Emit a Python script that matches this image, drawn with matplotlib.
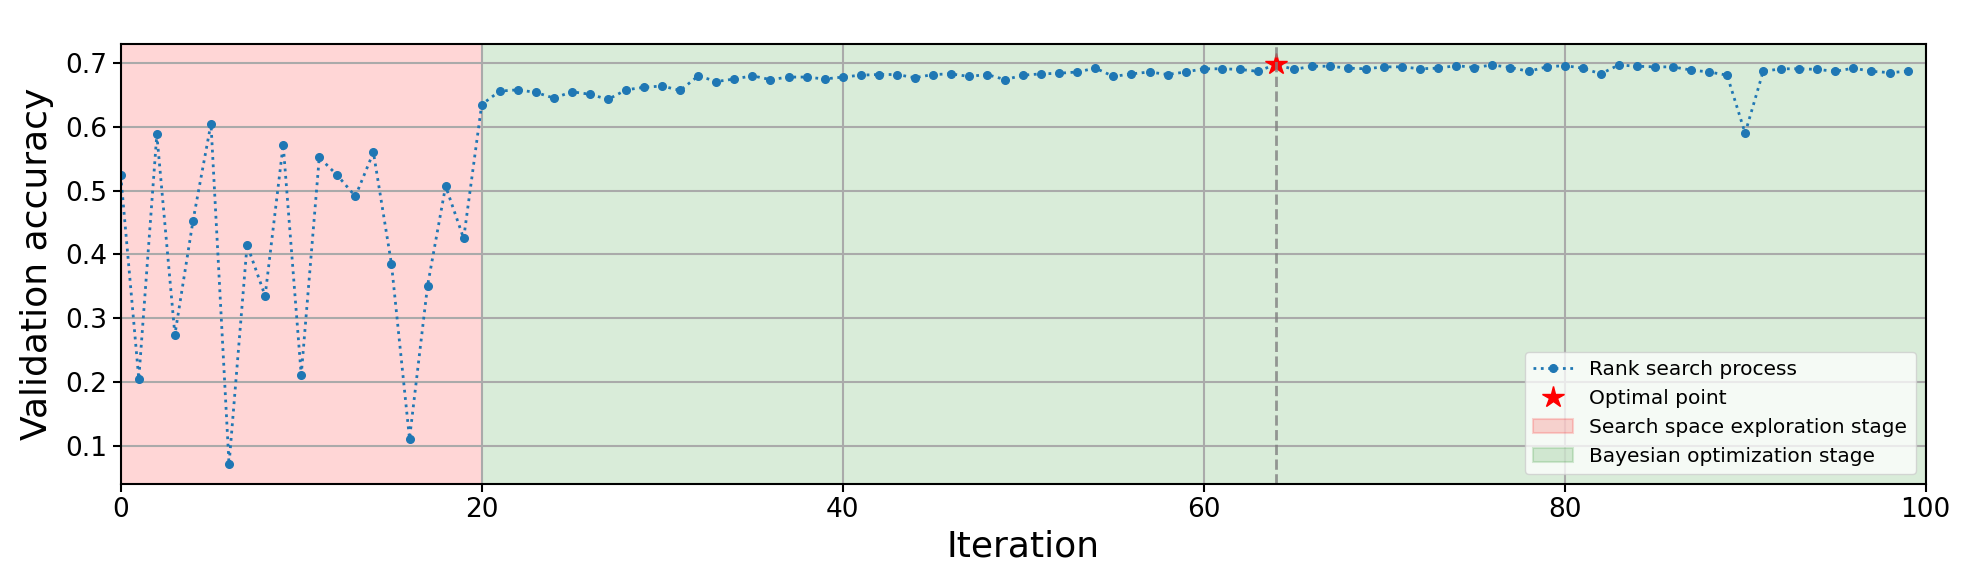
import numpy as np
import matplotlib
matplotlib.use('Agg')
import matplotlib.pyplot as plt

acc_explore = [0.524, 0.205, 0.588, 0.274, 0.452, 0.605, 0.071, 0.415, 0.335, 0.572,
               0.211, 0.552, 0.524, 0.491, 0.560, 0.385, 0.111, 0.351, 0.507, 0.425]
acc_bayes = [0.635, 0.656, 0.658, 0.654, 0.645, 0.655, 0.651, 0.643, 0.658, 0.662,
             0.664, 0.657, 0.680, 0.671, 0.675, 0.680, 0.674, 0.678, 0.678, 0.675,
             0.678, 0.681, 0.682, 0.682, 0.677, 0.682, 0.683, 0.679, 0.682, 0.674,
             0.681, 0.683, 0.684, 0.686, 0.692, 0.679, 0.683, 0.686, 0.682, 0.686,
             0.691, 0.691, 0.690, 0.687, 0.698, 0.690, 0.695, 0.695, 0.692, 0.691,
             0.694, 0.694, 0.691, 0.692, 0.696, 0.693, 0.697, 0.693, 0.687, 0.694,
             0.696, 0.692, 0.683, 0.697, 0.695, 0.694, 0.694, 0.689, 0.686, 0.681,
             0.590, 0.687, 0.691, 0.691, 0.690, 0.687, 0.692, 0.687, 0.685, 0.687]
explore_end = 20
n_iter = 100

acc = np.array(acc_explore + acc_bayes)
iters = np.arange(len(acc))
best = int(np.argmax(acc))

fig = plt.figure(figsize=(19.76, 5.87), dpi=100)
ax = fig.add_axes([0.0611, 0.175, 0.9134, 0.7495])

ax.axvspan(0, explore_end, facecolor='red', edgecolor='red', alpha=0.16, lw=0,
           label='Search space exploration stage')
ax.axvspan(explore_end, n_iter, facecolor='green', edgecolor='green', alpha=0.15, lw=0,
           label='Bayesian optimization stage')
ax.plot(iters, acc, ':', marker='o', color='tab:blue', markersize=5.5, lw=2,
        label='Rank search process')
ax.plot(iters[best], acc[best], '*', color='red', markersize=16, label='Optimal point')
ax.axvline(iters[best], color='gray', ls='--', lw=2, alpha=0.8)

ax.set_xlim(0, n_iter)
ax.grid(True, color='#aaaaaa', lw=1.5)
ax.tick_params(labelsize=19, width=1.5, length=6)
for s in ax.spines.values():
    s.set_linewidth(1.5)
ax.set_xlabel('Iteration', fontsize=26, labelpad=4)
ax.set_ylabel('Validation accuracy', fontsize=26, labelpad=8)

h, l = ax.get_legend_handles_labels()
order = [2, 3, 0, 1]
leg = ax.legend([h[i] for i in order], [l[i] for i in order], loc='lower right',
                fontsize=14.5, framealpha=0.75)
for p in leg.get_patches():
    p.set_linewidth(1.5)

fig.savefig('out.png', dpi=100)
